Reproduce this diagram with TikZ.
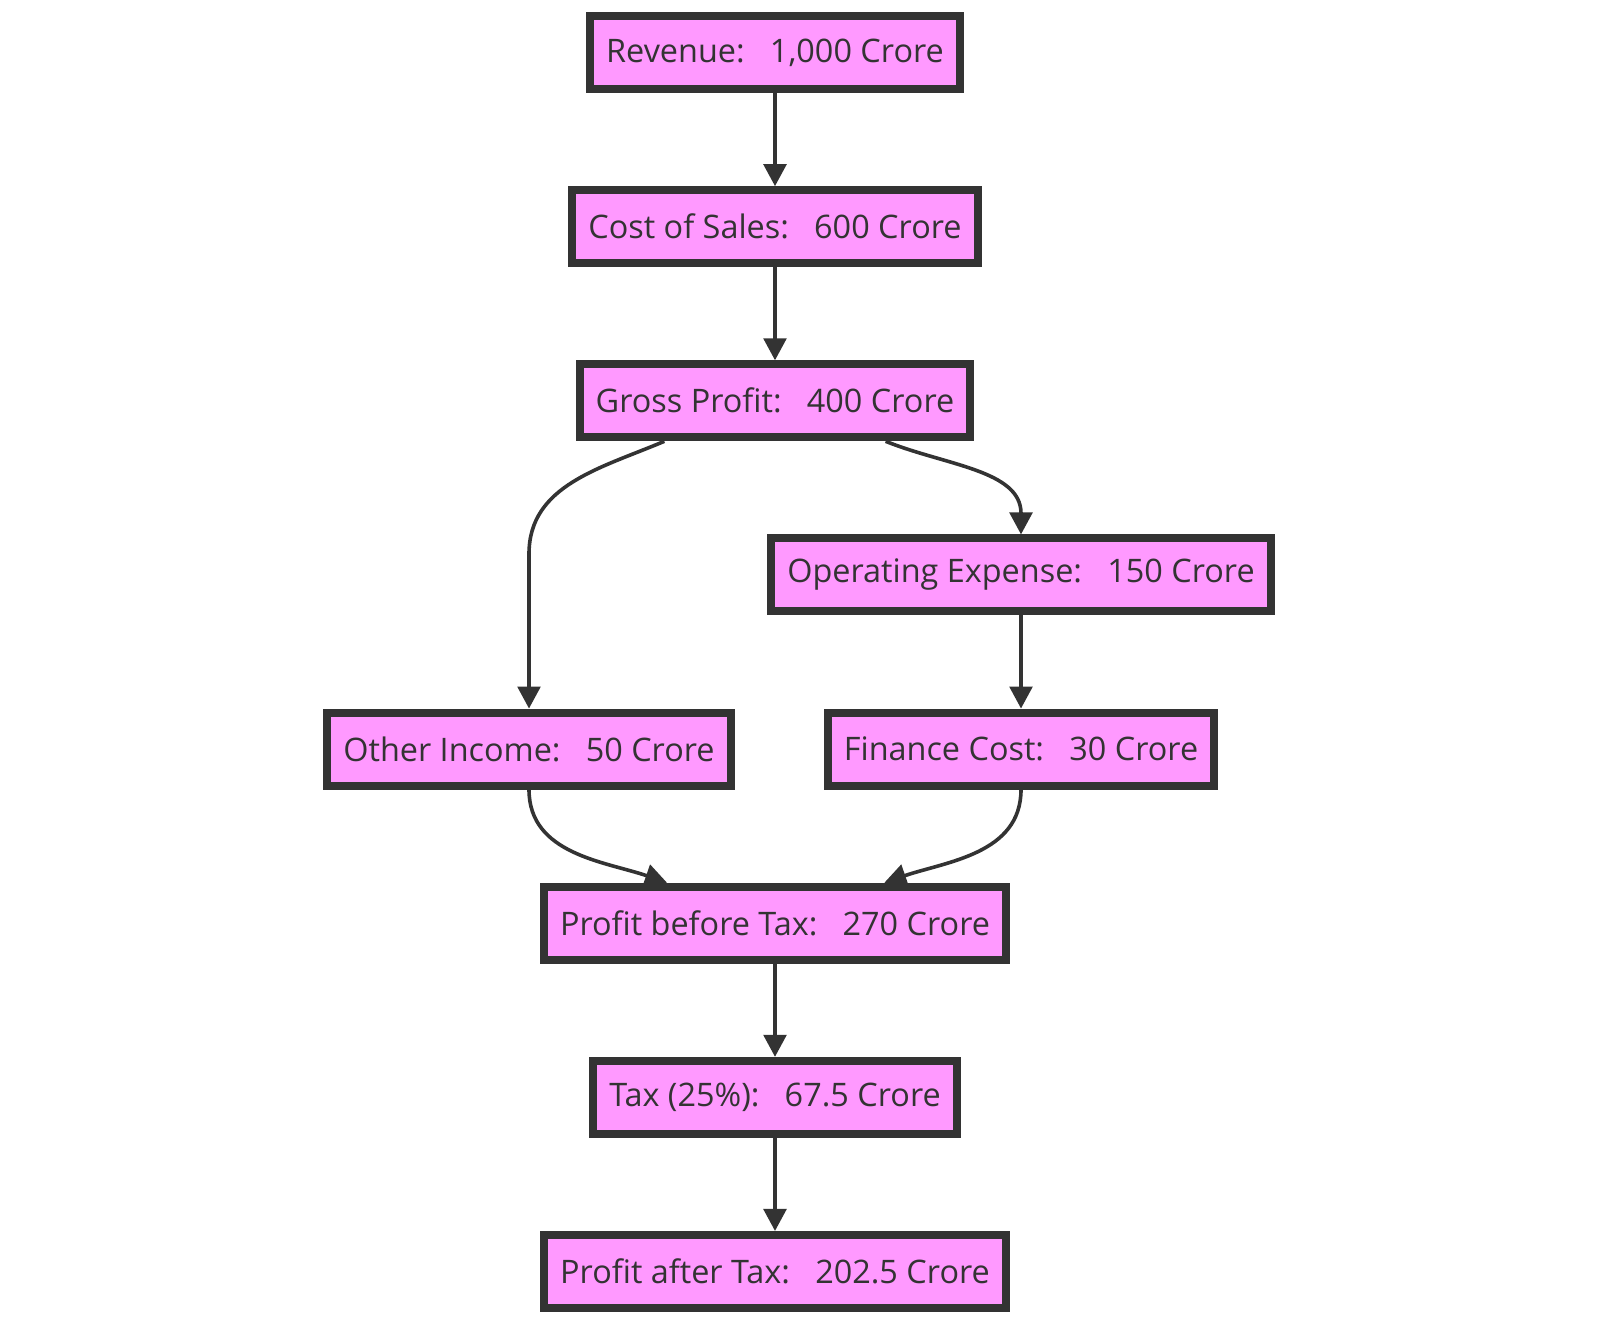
\documentclass[tikz,border=0pt]{standalone}
\usepackage{fontspec}
\setmainfont{Open Sans}
\usepackage{tikz}
\usetikzlibrary{arrows.meta,positioning}
\definecolor{ink}{HTML}{333333}
\definecolor{petal}{HTML}{FF99FF}
\tikzset{
  box/.style={rectangle, draw=ink, fill=petal, line width=6pt, text=ink, align=center,
              inner xsep=12pt, inner ysep=0pt, minimum height=54.75pt,
              font=\fontsize{24.3pt}{29pt}\selectfont},
  flow/.style={-{Triangle[length=16.5pt,width=17pt]}, draw=ink, line width=2.7pt}
}

\begin{document}
\begin{tikzpicture}[node distance=69.85pt]
 \useasboundingbox (0,0) rectangle (1200pt,-993pt);
 \node[box] (rev) at (581.25pt,-39.4pt) {Revenue:~~~1,000 Crore};
 \node[box, below=of rev] (cos) {Cost of Sales:~~~600 Crore};
 \node[box, below=of cos] (gp) {Gross Profit:~~~400 Crore};
 \node[box, below=of gp, xshift=184.5pt] (opx) {Operating Expense:~~~150 Crore};
 \node[box, below=of opx] (fin) {Finance Cost:~~~30 Crore};
 \node[box] (oi) at ([xshift=-184.5pt]fin -| gp) {Other Income:~~~50 Crore};
 \node[box, below=69.85pt] (pbt) at (gp |- fin.south) {Profit before Tax:~~~270 Crore};
 \node[box, below=of pbt] (tax) {Tax (25\%):~~~67.5 Crore};
 \node[box, below=of tax] (pat) {Profit after Tax:~~~202.5 Crore};
 \draw[flow] (rev) -- (cos);
 \draw[flow] (cos) -- (gp);
 \draw[flow] ([xshift=-83pt]gp.south) to[out=203,in=90] ([yshift=116pt]oi.north) -- (oi.north);
 \draw[flow] ([xshift=83pt]gp.south) to[out=-22,in=90] (opx.north);
 \draw[flow] (opx) -- (fin);
 \draw[flow] (oi.south) to[out=-90,in=161] ([xshift=-81pt]pbt.north);
 \draw[flow] (fin.south) to[out=-90,in=19] ([xshift=82pt]pbt.north);
 \draw[flow] (pbt) -- (tax);
 \draw[flow] (tax) -- (pat);
\end{tikzpicture}
\end{document}
